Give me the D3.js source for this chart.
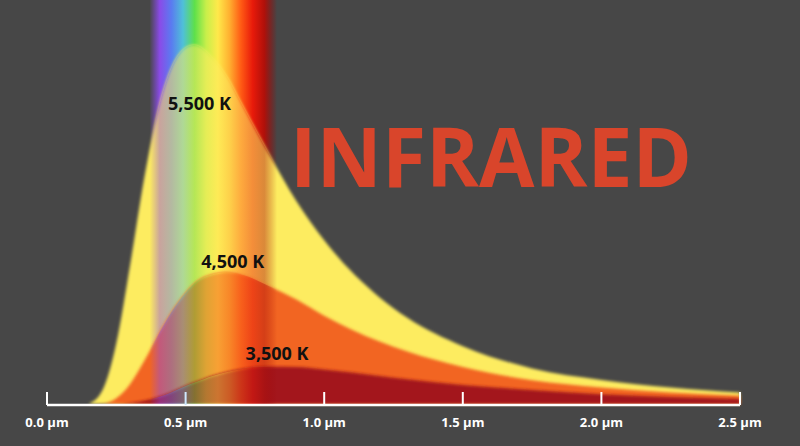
<!DOCTYPE html>
<html><head><meta charset="utf-8">
<script src="https://cdn.jsdelivr.net/npm/d3@7"></script>
<style>body{margin:0;background:#474747;}svg{display:block;}text{font-family:"Open Sans",sans-serif;font-weight:bold;}</style>
</head><body><div id="chart"></div>
<script>
// wavelength (µm) and relative intensity
var wavelengths = [0.15, 0.2, 0.25, 0.3, 0.35, 0.4, 0.45, 0.5, 0.53, 0.6, 0.65, 0.7, 0.8, 0.9, 1.0, 1.2, 1.3, 1.5, 1.75, 2.0, 2.5];
var k5500 = [0, 3.8, 16.9, 38.8, 62.6, 81.7, 93.8, 99.2, 100, 96.1, 91, 83.9, 69.8, 56.5, 45.6, 29.7, 24, 16.1, 9.9, 6.7, 3.2];
var k4500 = [0, 0.1, 1.6, 5.6, 11.9, 19.1, 25.7, 31.0, 33.5, 36.2, 36.7, 36.1, 32.9, 29.1, 24.6, 17.4, 14.6, 10.3, 6.6, 4.6, 2.3];
var k3500 = [0, 0, 0, 0.3, 0.9, 1.9, 3.3, 5.0, 5.9, 7.9, 8.9, 9.7, 10.4, 10.3, 9.6, 7.8, 6.9, 5.3, 3.9, 2.7, 1.4];
var series = [
  {label: "5,500 K", values: k5500, color: "#fdec60", lx: 0.55, ly: 82},
  {label: "4,500 K", values: k4500, color: "#f26524", lx: 0.67, ly: 38},
  {label: "3,500 K", values: k3500, color: "#a3121a", lx: 0.83, ly: 12.3}
];
var ticks = [0, 0.5, 1.0, 1.5, 2.0, 2.5];
var spectrum = ["#8a4be8", "#5a7bf0", "#4fc0d8", "#5ee04a", "#c8ef4a", "#ffe94a", "#ffb030", "#ff5a14", "#e81a0a", "#b0100a"];

var W = 800, H = 446;
var svg = d3.select("#chart").append("svg").attr("width", W).attr("height", H);
var x = d3.scaleLinear().domain([0, 2.5]).range([47, 740]);
var y = d3.scaleLinear().domain([0, 100]).range([404, 45]);

var defs = svg.append("defs");
var specX0 = x(0.37), specX1 = x(0.83);
var grad = defs.append("linearGradient").attr("id", "spec").attr("gradientUnits", "userSpaceOnUse")
  .attr("x1", specX0).attr("x2", specX1);
grad.append("stop").attr("offset", 0).attr("stop-color", spectrum[0]).attr("stop-opacity", 0);
spectrum.forEach(function (c, i) {
  grad.append("stop").attr("offset", 0.08 + 0.82 * i / (spectrum.length - 1)).attr("stop-color", c);
});
grad.append("stop").attr("offset", 1).attr("stop-color", "#900").attr("stop-opacity", 0);
var blur = defs.append("filter").attr("id", "soft").attr("x", "-5%").attr("y", "-5%").attr("width", "110%").attr("height", "110%");
blur.append("feGaussianBlur").attr("stdDeviation", 1.5);

svg.append("rect").attr("x", specX0).attr("y", 0).attr("width", specX1 - specX0).attr("height", 404)
  .attr("fill", "url(#spec)");

var area = d3.area().curve(d3.curveMonotoneX)
  .x(function (d, i) { return x(wavelengths[i]); })
  .y0(y(0)).y1(function (d) { return y(d); });

series.forEach(function (s) {
  svg.append("path").datum(s.values).attr("d", area).attr("fill", s.color).attr("filter", "url(#soft)");
  svg.append("path").datum(s.values).attr("d", area).attr("fill", "url(#spec)").attr("opacity", 0.45);
});

series.forEach(function (s) {
  svg.append("text").attr("x", x(s.lx)).attr("y", y(s.ly)).attr("text-anchor", "middle")
    .attr("font-size", 18).attr("fill", "#111").text(s.label);
});

svg.append("text").attr("x", 290).attr("y", 187).attr("font-size", 82)
  .attr("font-family", "'Liberation Sans Narrow','DejaVu Sans Condensed',sans-serif")
  .attr("textLength", 402).attr("lengthAdjust", "spacingAndGlyphs")
  .attr("fill", "#d9452b").text("INFRARED");

var axis = svg.append("g");
axis.append("line").attr("x1", x(0)).attr("x2", x(2.5)).attr("y1", 405).attr("y2", 405)
  .attr("stroke", "#fff").attr("stroke-width", 2.5);
axis.selectAll(".tk").data(ticks).enter().append("line")
  .attr("x1", x).attr("x2", x).attr("y1", 405).attr("y2", 392)
  .attr("stroke", function (d, i) { return i === 1 ? "#cfe8ff" : "#fff"; }).attr("stroke-width", 2);
axis.selectAll(".tl").data(ticks).enter().append("text")
  .attr("x", x).attr("y", 427).attr("text-anchor", "middle").attr("font-size", 13).attr("fill", "#fff")
  .text(function (d) { return d.toFixed(1) + " µm"; });
</script></body></html>
